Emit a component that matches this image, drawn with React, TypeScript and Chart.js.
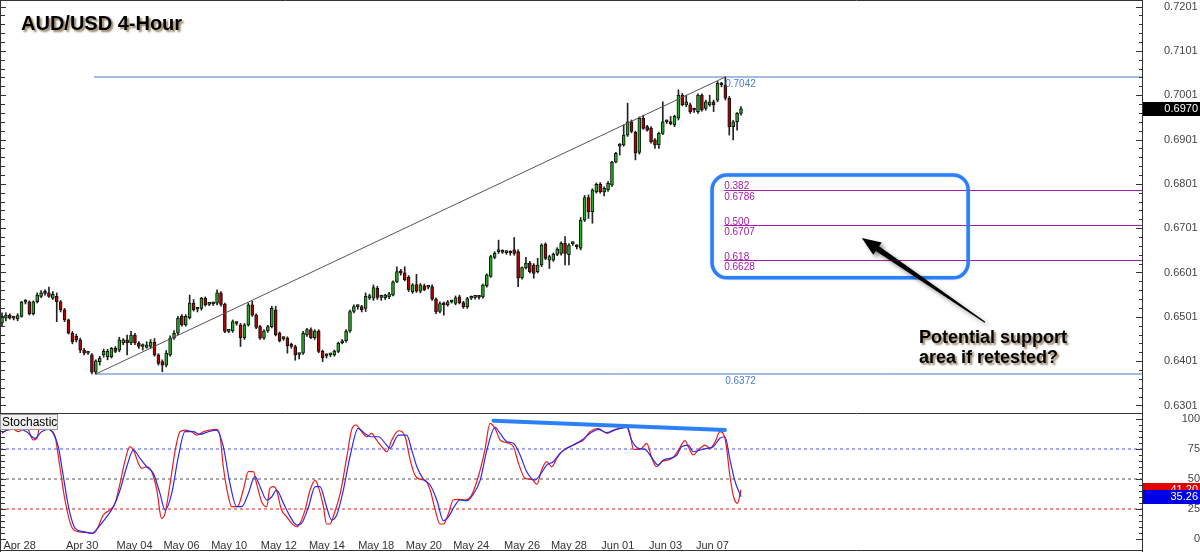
import React, { useEffect, useRef } from 'react';
import { Chart, registerables } from 'chart.js';

Chart.register(...registerables);

// ---------------- DATA ----------------
const candleOpen = [
  0.6487, 0.6498, 0.6505, 0.6498, 0.6496, 0.6502, 0.6534, 0.6535, 0.6508, 0.6535,
  0.6547, 0.6555, 0.6555, 0.6543, 0.6547, 0.6535, 0.6517, 0.6494, 0.6464, 0.6457,
  0.6449, 0.6426, 0.6419, 0.6415, 0.6376, 0.6400, 0.6415, 0.6411, 0.6411, 0.6430,
  0.6426, 0.6442, 0.6449, 0.6442, 0.6460, 0.6442, 0.6434, 0.6432, 0.6434, 0.6444,
  0.6415, 0.6400, 0.6392, 0.6415, 0.6453, 0.6464, 0.6502, 0.6483, 0.6499, 0.6532,
  0.6518, 0.6520, 0.6543, 0.6529, 0.6530, 0.6532, 0.6555, 0.6529, 0.6468, 0.6469,
  0.6487, 0.6483, 0.6454, 0.6483, 0.6528, 0.6505, 0.6479, 0.6453, 0.6469, 0.6479,
  0.6517, 0.6464, 0.6452, 0.6453, 0.6439, 0.6434, 0.6416, 0.6419, 0.6460, 0.6472,
  0.6454, 0.6469, 0.6423, 0.6413, 0.6415, 0.6415, 0.6423, 0.6442, 0.6447, 0.6469,
  0.6513, 0.6524, 0.6524, 0.6520, 0.6543, 0.6543, 0.6565, 0.6545, 0.6544, 0.6546,
  0.6550, 0.6580, 0.6603, 0.6600, 0.6590, 0.6558, 0.6574, 0.6559, 0.6571, 0.6568,
  0.6569, 0.6541, 0.6513, 0.6531, 0.6528, 0.6535, 0.6531, 0.6546, 0.6533, 0.6524,
  0.6543, 0.6545, 0.6546, 0.6546, 0.6571, 0.6592, 0.6635, 0.6648, 0.6648, 0.6646,
  0.6646, 0.6652, 0.6648, 0.6589, 0.6612, 0.6622, 0.6618, 0.6603, 0.6618, 0.6665,
  0.6629, 0.6629, 0.6642, 0.6644, 0.6667, 0.6641, 0.6666, 0.6660, 0.6656, 0.6719,
  0.6770, 0.6738, 0.6783, 0.6800, 0.6783, 0.6787, 0.6798, 0.6850, 0.6886, 0.6889,
  0.6911, 0.6941, 0.6917, 0.6872, 0.6949, 0.6930, 0.6927, 0.6900, 0.6889, 0.6915,
  0.6941, 0.6938, 0.6934, 0.6949, 0.7001, 0.6979, 0.6979, 0.6968, 0.6964, 0.7001,
  0.6971, 0.6979, 0.6986, 0.6990, 0.7026, 0.7024, 0.6994, 0.6930, 0.6941, 0.6960,
];
const candleHigh = [
  0.6510, 0.6510, 0.6508, 0.6502, 0.6508, 0.6536, 0.6540, 0.6537, 0.6537, 0.6555,
  0.6560, 0.6562, 0.6568, 0.6558, 0.6555, 0.6538, 0.6520, 0.6496, 0.6468, 0.6462,
  0.6453, 0.6430, 0.6423, 0.6418, 0.6404, 0.6412, 0.6428, 0.6428, 0.6432, 0.6434,
  0.6455, 0.6452, 0.6460, 0.6468, 0.6464, 0.6445, 0.6440, 0.6445, 0.6450, 0.6452,
  0.6418, 0.6404, 0.6425, 0.6458, 0.6470, 0.6502, 0.6506, 0.6506, 0.6550, 0.6540,
  0.6522, 0.6545, 0.6546, 0.6532, 0.6535, 0.6562, 0.6558, 0.6532, 0.6472, 0.6494,
  0.6490, 0.6486, 0.6486, 0.6532, 0.6536, 0.6508, 0.6482, 0.6472, 0.6482, 0.6525,
  0.6525, 0.6467, 0.6456, 0.6456, 0.6442, 0.6437, 0.6419, 0.6468, 0.6475, 0.6476,
  0.6472, 0.6472, 0.6426, 0.6418, 0.6419, 0.6426, 0.6444, 0.6450, 0.6472, 0.6516,
  0.6528, 0.6528, 0.6527, 0.6555, 0.6552, 0.6573, 0.6570, 0.6550, 0.6552, 0.6556,
  0.6582, 0.6614, 0.6608, 0.6614, 0.6594, 0.6576, 0.6597, 0.6576, 0.6575, 0.6572,
  0.6573, 0.6544, 0.6535, 0.6534, 0.6538, 0.6538, 0.6548, 0.6550, 0.6536, 0.6545,
  0.6548, 0.6548, 0.6549, 0.6575, 0.6598, 0.6640, 0.6648, 0.6674, 0.6652, 0.6650,
  0.6650, 0.6680, 0.6652, 0.6614, 0.6635, 0.6626, 0.6621, 0.6633, 0.6666, 0.6668,
  0.6640, 0.6645, 0.6657, 0.6670, 0.6682, 0.6666, 0.6670, 0.6664, 0.6725, 0.6775,
  0.6776, 0.6790, 0.6803, 0.6804, 0.6794, 0.6806, 0.6852, 0.6872, 0.6892, 0.6934,
  0.6983, 0.6945, 0.6920, 0.6952, 0.6956, 0.6933, 0.6930, 0.6903, 0.6918, 0.6986,
  0.6945, 0.6953, 0.6956, 0.7013, 0.7005, 0.7001, 0.6983, 0.6972, 0.7004, 0.7004,
  0.6990, 0.7001, 0.6990, 0.7032, 0.7030, 0.7042, 0.6998, 0.6944, 0.6962, 0.6975,
];
const candleLow = [
  0.6480, 0.6492, 0.6496, 0.6494, 0.6492, 0.6500, 0.6530, 0.6505, 0.6505, 0.6532,
  0.6544, 0.6550, 0.6545, 0.6540, 0.6490, 0.6512, 0.6490, 0.6462, 0.6440, 0.6444,
  0.6420, 0.6415, 0.6416, 0.6372, 0.6372, 0.6392, 0.6410, 0.6404, 0.6408, 0.6420,
  0.6422, 0.6438, 0.6415, 0.6438, 0.6438, 0.6430, 0.6426, 0.6430, 0.6430, 0.6412,
  0.6392, 0.6377, 0.6388, 0.6412, 0.6450, 0.6460, 0.6480, 0.6480, 0.6496, 0.6514,
  0.6512, 0.6516, 0.6525, 0.6526, 0.6527, 0.6528, 0.6525, 0.6465, 0.6465, 0.6466,
  0.6482, 0.6434, 0.6450, 0.6480, 0.6502, 0.6474, 0.6450, 0.6450, 0.6466, 0.6476,
  0.6458, 0.6444, 0.6448, 0.6419, 0.6430, 0.6403, 0.6406, 0.6416, 0.6457, 0.6452,
  0.6450, 0.6420, 0.6400, 0.6408, 0.6411, 0.6412, 0.6420, 0.6440, 0.6444, 0.6466,
  0.6510, 0.6518, 0.6512, 0.6513, 0.6540, 0.6538, 0.6540, 0.6538, 0.6540, 0.6542,
  0.6548, 0.6578, 0.6595, 0.6582, 0.6558, 0.6554, 0.6556, 0.6555, 0.6560, 0.6564,
  0.6538, 0.6508, 0.6510, 0.6505, 0.6525, 0.6532, 0.6528, 0.6530, 0.6520, 0.6520,
  0.6540, 0.6541, 0.6541, 0.6543, 0.6568, 0.6590, 0.6632, 0.6644, 0.6644, 0.6642,
  0.6640, 0.6640, 0.6569, 0.6586, 0.6609, 0.6600, 0.6588, 0.6600, 0.6614, 0.6630,
  0.6610, 0.6626, 0.6639, 0.6640, 0.6618, 0.6618, 0.6662, 0.6654, 0.6652, 0.6716,
  0.6723, 0.6712, 0.6780, 0.6780, 0.6774, 0.6784, 0.6795, 0.6848, 0.6866, 0.6886,
  0.6908, 0.6916, 0.6855, 0.6868, 0.6924, 0.6920, 0.6893, 0.6881, 0.6881, 0.6912,
  0.6937, 0.6934, 0.6930, 0.6945, 0.6977, 0.6975, 0.6960, 0.6962, 0.6960, 0.6965,
  0.6967, 0.6976, 0.6964, 0.6986, 0.7020, 0.6990, 0.6911, 0.6900, 0.6922, 0.6956,
];
const candleClose = [
  0.6502, 0.6505, 0.6498, 0.6499, 0.6504, 0.6534, 0.6535, 0.6508, 0.6535, 0.6550,
  0.6555, 0.6554, 0.6547, 0.6552, 0.6535, 0.6517, 0.6494, 0.6464, 0.6445, 0.6449,
  0.6426, 0.6419, 0.6419, 0.6376, 0.6402, 0.6408, 0.6423, 0.6423, 0.6430, 0.6423,
  0.6449, 0.6449, 0.6442, 0.6460, 0.6442, 0.6434, 0.6434, 0.6438, 0.6444, 0.6415,
  0.6396, 0.6392, 0.6419, 0.6453, 0.6464, 0.6498, 0.6483, 0.6502, 0.6532, 0.6517,
  0.6520, 0.6543, 0.6528, 0.6530, 0.6532, 0.6555, 0.6529, 0.6468, 0.6469, 0.6490,
  0.6486, 0.6454, 0.6483, 0.6528, 0.6505, 0.6477, 0.6453, 0.6469, 0.6479, 0.6520,
  0.6460, 0.6447, 0.6453, 0.6436, 0.6434, 0.6415, 0.6417, 0.6464, 0.6472, 0.6454,
  0.6469, 0.6423, 0.6409, 0.6415, 0.6417, 0.6424, 0.6442, 0.6447, 0.6469, 0.6513,
  0.6524, 0.6524, 0.6517, 0.6547, 0.6549, 0.6567, 0.6545, 0.6546, 0.6550, 0.6553,
  0.6580, 0.6603, 0.6600, 0.6585, 0.6562, 0.6573, 0.6559, 0.6573, 0.6562, 0.6568,
  0.6541, 0.6512, 0.6531, 0.6528, 0.6535, 0.6536, 0.6544, 0.6533, 0.6524, 0.6542,
  0.6545, 0.6546, 0.6545, 0.6573, 0.6596, 0.6637, 0.6644, 0.6648, 0.6647, 0.6646,
  0.6645, 0.6644, 0.6588, 0.6612, 0.6622, 0.6603, 0.6599, 0.6618, 0.6663, 0.6633,
  0.6637, 0.6642, 0.6654, 0.6667, 0.6644, 0.6663, 0.6667, 0.6659, 0.6719, 0.6770,
  0.6738, 0.6787, 0.6800, 0.6783, 0.6791, 0.6802, 0.6850, 0.6870, 0.6889, 0.6911,
  0.6941, 0.6919, 0.6870, 0.6949, 0.6926, 0.6922, 0.6896, 0.6889, 0.6915, 0.6941,
  0.6942, 0.6937, 0.6953, 0.7001, 0.6979, 0.6986, 0.6964, 0.6967, 0.7001, 0.6968,
  0.6986, 0.6986, 0.6979, 0.7028, 0.7024, 0.6994, 0.6930, 0.6941, 0.6960, 0.6970,
];

const priceTicks = [0.6301, 0.6401, 0.6501, 0.6601, 0.6701, 0.6801, 0.6901, 0.7001, 0.7101, 0.7201];
const stochTicks = [0, 25, 50, 75, 100];
const stochLevels = [75, 50, 25];

const dateLabels = ['Apr 28', 'Apr 30', 'May 04', 'May 06', 'May 10', 'May 12', 'May 14', 'May 18',
  'May 20', 'May 24', 'May 26', 'May 28', 'Jun 01', 'Jun 03', 'Jun 07'];
const dateTickIndex = [4.5, 20.5, 33.9, 45.9, 58.1, 70.8, 83.1, 95.7, 107.9, 120.0, 133.0, 145.0, 157.5, 169.7, 181.7];

// stochastic (%K red, %D blue): [candle index, value]
const stochRed = [
  [0, 88.0], [1.2, 90.8], [2.9, 91.4], [4.2, 89.4], [5.5, 92.2], [6.3, 93.0], [8.0, 82.5], [8.9, 83.9],
  [9.7, 93.6], [11.0, 94.1], [12.3, 90.8], [13.6, 85.2], [14.8, 60.2], [16.1, 32.5], [17.8, 10.2],
  [19.5, 6.1], [21.7, 5.5], [23.4, 4.7], [24.6, 10.2], [25.9, 20.0], [27.6, 24.1], [28.9, 29.7],
  [30.2, 46.4], [31.5, 65.8], [32.7, 76.9], [33.6, 74.1], [34.9, 63.0], [35.7, 58.9], [37.0, 60.2],
  [38.3, 56.1], [39.6, 40.8], [40.8, 17.2], [41.7, 21.4], [43.0, 46.4], [44.3, 74.1], [45.5, 89.4],
  [46.8, 90.8], [48.5, 89.4], [49.8, 86.6], [51.5, 89.4], [53.2, 90.8], [54.9, 91.4], [55.8, 85.2],
  [56.6, 60.2], [57.9, 35.2], [58.7, 26.9], [60.2, 26.9], [61.7, 40.8], [63.0, 56.1], [64.3, 56.1],
  [65.1, 46.4], [66.4, 31.1], [67.7, 26.9], [68.5, 42.2], [69.4, 43.6], [70.2, 40.8], [71.5, 24.1],
  [72.8, 18.6], [74.1, 13.0], [75.4, 10.2], [76.2, 13.0], [77.5, 24.1], [78.8, 40.8], [80.1, 49.1],
  [80.9, 43.6], [82.2, 26.9], [83.0, 12.5], [83.9, 12.5], [84.7, 18.6], [86.5, 38.0], [88.2, 68.6],
  [89.4, 90.8], [90.5, 95.0], [92.0, 89.4], [93.3, 85.2], [94.5, 88.0], [95.8, 82.5], [97.1, 76.9],
  [98.4, 72.7], [99.7, 82.5], [101.4, 90.2], [103.1, 85.2], [104.4, 65.8], [105.6, 53.3], [106.9, 49.7],
  [108.2, 49.1], [109.5, 40.8], [110.8, 24.1], [112.0, 12.5], [112.9, 12.5], [114.2, 21.4], [115.4, 32.5],
  [116.7, 33.0], [118.4, 32.5], [120.1, 36.6], [121.8, 51.9], [123.5, 74.1], [124.8, 96.4], [126.1, 92.2],
  [127.4, 82.5], [129.1, 80.2], [130.8, 76.9], [132.1, 63.0], [133.8, 50.5], [135.5, 49.7], [136.8, 45.5],
  [138.0, 57.5], [139.3, 64.4], [140.6, 60.2], [141.9, 67.2], [143.6, 74.1], [145.3, 76.9], [147.0, 79.7],
  [148.7, 82.5], [150.4, 89.4], [152.5, 92.2], [154.7, 88.0], [156.4, 90.8], [158.1, 92.2], [159.8, 93.6],
  [160.6, 88.0], [161.5, 74.7], [163.2, 74.7], [164.9, 79.7], [166.2, 67.2], [167.4, 60.2], [168.7, 64.4],
  [170.4, 65.8], [171.7, 68.0], [173.0, 74.1], [174.7, 81.9], [175.5, 76.9], [176.8, 70.0], [178.1, 74.1],
  [179.8, 78.3], [181.1, 75.5], [182.4, 81.1], [183.6, 89.4], [185.0, 82.5], [186.2, 51.9], [187.1, 35.2],
  [188.1, 29.7], [189, 41.2],
];
const stochBlue = [
  [0, 88.6], [2.0, 91.4], [4.6, 91.4], [6.3, 89.4], [8.4, 83.9], [10.1, 89.4], [11.9, 91.4], [13.1, 88.0],
  [14.4, 76.9], [15.7, 51.9], [17.0, 26.9], [18.7, 8.9], [20.8, 6.1], [23.0, 4.7], [25.1, 11.6],
  [26.8, 18.6], [28.5, 26.9], [30.2, 40.8], [31.9, 60.2], [33.6, 74.1], [35.3, 67.2], [37.0, 60.2],
  [38.7, 54.7], [40.4, 38.0], [41.7, 24.1], [43.4, 38.0], [45.1, 68.6], [46.8, 89.4], [48.9, 89.4],
  [50.6, 87.2], [52.8, 89.4], [54.9, 90.8], [56.6, 76.9], [58.3, 46.4], [60.0, 26.9], [61.3, 26.9],
  [63.0, 38.0], [64.7, 51.9], [66.0, 43.6], [67.7, 32.5], [69.0, 35.2], [70.2, 40.8], [72.0, 29.7],
  [73.7, 18.6], [75.4, 11.6], [76.6, 13.0], [78.4, 26.9], [80.1, 43.6], [81.3, 43.6], [83.0, 26.9],
  [84.3, 15.8], [85.6, 20.0], [87.3, 40.8], [89.0, 68.6], [91.1, 92.2], [92.8, 88.0], [94.5, 85.2],
  [96.3, 85.2], [98.0, 79.7], [99.2, 75.5], [101.4, 86.6], [103.5, 86.6], [104.8, 74.1], [106.1, 60.2],
  [107.8, 49.7], [109.5, 45.0], [111.2, 32.5], [112.9, 15.2], [114.2, 18.6], [115.9, 28.3], [117.1, 32.5],
  [118.9, 31.9], [120.1, 35.2], [122.3, 49.1], [124.0, 74.1], [126.1, 93.0], [127.4, 88.0], [129.1, 81.1],
  [130.8, 79.7], [132.5, 70.0], [134.2, 56.1], [136.3, 49.1], [137.6, 53.3], [139.3, 61.6], [141.0, 64.4],
  [142.7, 71.4], [144.4, 75.5], [146.1, 78.3], [148.3, 82.5], [150.4, 88.0], [152.5, 91.4], [154.7, 88.6],
  [157.2, 91.4], [159.8, 93.0], [161.0, 82.5], [162.8, 75.5], [164.5, 74.7], [165.7, 70.0], [167.9, 61.6],
  [169.1, 65.8], [170.9, 67.2], [172.6, 70.0], [173.8, 76.9], [175.5, 78.3], [176.8, 72.7], [178.5, 74.1],
  [180.2, 75.5], [181.9, 76.9], [183.6, 83.9], [184.9, 85.2], [186.2, 65.8], [187.5, 47.7], [189, 35.26],
];
const stochDivergence = [[125.7, 98.6], [184.9, 90.8]];

const currentPrice = 0.6970;
const stochRedLast = 41.20;
const stochBlueLast = 35.26;

const resistanceLevel = 0.7042;
const supportLevel = 0.6372;
const trendLowIndex = 24;
const trendHighIndex = 185;
const fibRatios = ['0.382', '0.500', '0.618'];
const fibLevels = [0.6786, 0.6707, 0.6628];
const fibStartIndex = 184.7;

// annotation anchors (data coordinates)
const boxCorners = { x1: 181.6, x2: 247.1, y1: 0.6821, y2: 0.6589 };
const arrowTail = { x: 251.4, y: 0.6489 };
const arrowTip = { x: 219.9, y: 0.6679 };
const noteAnchor = { x: 234.5, y1: 0.6453, y2: 0.6408 };
const noteLines = ['Potential support', 'area if retested?'];
const titleText = 'AUD/USD 4-Hour';

// ---------------- LAYOUT CONSTANTS ----------------
const X_MIN = -0.5115;
const X_MAX = 291.56;
const P_MIN = 0.62863;
const P_MAX = 0.72157;
const S_MIN = 0;
const S_MAX = 105.83;
const AXIS_W = 58;
const FONT = "'Liberation Sans', Arial, sans-serif";

const GREEN = '#1fae1f';
const RED = '#b50000';
const LEVEL_BLUE = '#4a7dc0';
const FIB_PURPLE = '#a21aa8';

function rrect(ctx: CanvasRenderingContext2D, x: number, y: number, w: number, h: number, r: number) {
  ctx.beginPath();
  ctx.moveTo(x + r, y);
  ctx.lineTo(x + w - r, y);
  ctx.arcTo(x + w, y, x + w, y + r, r);
  ctx.lineTo(x + w, y + h - r);
  ctx.arcTo(x + w, y + h, x + w - r, y + h, r);
  ctx.lineTo(x + r, y + h);
  ctx.arcTo(x, y + h, x, y + h - r, r);
  ctx.lineTo(x, y + r);
  ctx.arcTo(x, y, x + r, y, r);
  ctx.closePath();
}

function valueBox(ctx: CanvasRenderingContext2D, yc: number, bg: string, text: string, left: number, width: number) {
  ctx.fillStyle = bg;
  ctx.fillRect(left + 1, Math.round(yc - 7), width - 1, 14);
  ctx.fillStyle = '#fff';
  ctx.font = `11px ${FONT}`;
  ctx.textAlign = 'right';
  ctx.textBaseline = 'middle';
  ctx.fillText(text, 1198, yc + 0.5);
}

const topPlugin = {
  id: 'topDecor',
  afterDraw(chart: any) {
    const { ctx, chartArea: ca } = chart;
    const xs = chart.scales.x;
    const ys = chart.scales.y;
    const px = (v: number) => xs.getPixelForValue(v);
    const py = (v: number) => ys.getPixelForValue(v);
    ctx.save();

    // level labels
    ctx.font = `10px ${FONT}`;
    ctx.textAlign = 'left';
    ctx.fillStyle = LEVEL_BLUE;
    ctx.textBaseline = 'top';
    ctx.fillText(resistanceLevel.toFixed(4), px(fibStartIndex) + 1, py(resistanceLevel) + 2);
    ctx.fillText(supportLevel.toFixed(4), px(fibStartIndex) + 1, py(supportLevel) + 2);

    ctx.fillStyle = FIB_PURPLE;
    fibLevels.forEach((lv, i) => {
      const yy = py(lv);
      ctx.textBaseline = 'alphabetic';
      ctx.fillText(fibRatios[i], px(fibStartIndex), yy - 1);
      ctx.textBaseline = 'top';
      ctx.fillText(lv.toFixed(4), px(fibStartIndex), yy + 2);
    });

    // rounded box
    const bx1 = px(boxCorners.x1), bx2 = px(boxCorners.x2);
    const by1 = py(boxCorners.y1), by2 = py(boxCorners.y2);
    ctx.save();
    ctx.shadowColor = 'rgba(40,110,255,0.35)';
    ctx.shadowBlur = 2;
    ctx.strokeStyle = '#2b80f8';
    ctx.lineWidth = 3.5;
    rrect(ctx, bx1, by1, bx2 - bx1, by2 - by1, 15);
    ctx.stroke();
    ctx.restore();

    // arrow
    const tip = { x: px(arrowTip.x), y: py(arrowTip.y) };
    const tail = { x: px(arrowTail.x), y: py(arrowTail.y) };
    const dx = tip.x - tail.x, dy = tip.y - tail.y;
    const len = Math.hypot(dx, dy);
    const ux = dx / len, uy = dy / len;
    const nx = -uy, ny = ux;
    const headLen = 19, headHalf = 7.5, baseHalf = 2.8, tailHalf = 0.6;
    const hx = tip.x - ux * headLen, hy = tip.y - uy * headLen;
    ctx.save();
    ctx.beginPath();
    ctx.moveTo(tail.x + nx * tailHalf, tail.y + ny * tailHalf);
    ctx.lineTo(hx + nx * baseHalf, hy + ny * baseHalf);
    ctx.lineTo(hx + nx * headHalf, hy + ny * headHalf);
    ctx.lineTo(tip.x, tip.y);
    ctx.lineTo(hx - nx * headHalf, hy - ny * headHalf);
    ctx.lineTo(hx - nx * baseHalf, hy - ny * baseHalf);
    ctx.lineTo(tail.x - nx * tailHalf, tail.y - ny * tailHalf);
    ctx.closePath();
    ctx.shadowColor = 'rgba(0,0,0,0.45)';
    ctx.shadowBlur = 4;
    ctx.shadowOffsetX = 3;
    ctx.shadowOffsetY = 3;
    ctx.fillStyle = '#000';
    ctx.fill();
    ctx.restore();

    // note text
    ctx.save();
    ctx.font = `bold 18px ${FONT}`;
    ctx.fillStyle = '#000';
    ctx.textAlign = 'left';
    ctx.textBaseline = 'middle';
    ctx.shadowColor = 'rgba(90,60,10,0.65)';
    ctx.shadowBlur = 2;
    ctx.shadowOffsetX = 2;
    ctx.shadowOffsetY = 2;
    ctx.fillText(noteLines[0], px(noteAnchor.x), py(noteAnchor.y1));
    ctx.fillText(noteLines[1], px(noteAnchor.x), py(noteAnchor.y2));
    // title
    ctx.font = `bold 20px ${FONT}`;
    ctx.fillText(titleText, 21, 24);
    ctx.restore();

    // frame: top, left, right axis line
    ctx.strokeStyle = '#333';
    ctx.lineWidth = 1;
    ctx.beginPath();
    ctx.moveTo(0, 0.5); ctx.lineTo(ca.right, 0.5);
    ctx.moveTo(0.5, 0); ctx.lineTo(0.5, chart.height);
    ctx.moveTo(ca.right + 0.5, 0); ctx.lineTo(ca.right + 0.5, chart.height);
    ctx.stroke();

    // tick marks (0.002 step, major every 0.01)
    ctx.beginPath();
    for (let k = -5; k <= 50; k++) {
      const v = priceTicks[0] + k * 0.002;
      const yy = Math.round(py(v)) + 0.5;
      if (yy < ca.top || yy > ca.bottom) continue;
      const major = ((k % 5) + 5) % 5 === 0;
      const l = major ? 6 : 3;
      ctx.moveTo(ca.right - l, yy); ctx.lineTo(ca.right, yy);
      ctx.moveTo(0, yy); ctx.lineTo(major ? 6 : 5, yy);
    }
    ctx.stroke();

    // current price box
    valueBox(ctx, py(currentPrice), '#000', currentPrice.toFixed(4), ca.right, chart.width - ca.right);
    ctx.restore();
  },
};

const bottomPlugin = {
  id: 'bottomDecor',
  afterDraw(chart: any) {
    const { ctx, chartArea: ca } = chart;
    const ys = chart.scales.y;
    const py = (v: number) => ys.getPixelForValue(v);
    ctx.save();
    ctx.strokeStyle = '#333';
    ctx.lineWidth = 1;
    ctx.beginPath();
    ctx.moveTo(0, 1.5); ctx.lineTo(ca.right, 1.5);
    ctx.moveTo(0, chart.height - 1.5); ctx.lineTo(ca.right, chart.height - 1.5);
    ctx.moveTo(0.5, 0); ctx.lineTo(0.5, chart.height);
    ctx.moveTo(ca.right + 0.5, 0); ctx.lineTo(ca.right + 0.5, chart.height);
    ctx.stroke();

    ctx.beginPath();
    for (let v = 0; v <= 105; v += 5) {
      const yy = Math.round(py(v)) + 0.5;
      const major = v % 25 === 0;
      const l = major ? 6 : 3;
      ctx.moveTo(ca.right - l, yy); ctx.lineTo(ca.right, yy);
      ctx.moveTo(0, yy); ctx.lineTo(major ? 6 : 5, yy);
    }
    ctx.stroke();

    // indicator name box
    ctx.fillStyle = '#f0f0f0';
    ctx.fillRect(0.5, 2.5, 57, 15);
    ctx.strokeStyle = '#9a9a9a';
    ctx.strokeRect(0.5, 2.5, 57, 15);
    ctx.fillStyle = '#000';
    ctx.font = `12px ${FONT}`;
    ctx.textAlign = 'left';
    ctx.textBaseline = 'middle';
    ctx.fillText('Stochastic', 2, 10.5);

    valueBox(ctx, py(stochRedLast), '#e00000', stochRedLast.toFixed(2), ca.right, chart.width - ca.right);
    valueBox(ctx, py(stochBlueLast), '#0000e6', stochBlueLast.toFixed(2), ca.right, chart.width - ca.right);
    ctx.restore();
  },
};

function hLine(y: number, fromX: number, color: string, width = 1, dash: number[] = []) {
  return {
    type: 'line',
    data: [{ x: fromX, y }, { x: X_MAX, y }],
    borderColor: color,
    borderWidth: width,
    borderDash: dash,
    pointRadius: 0,
    fill: false,
  };
}

function buildTopConfig(): any {
  const idx = candleOpen.map((_, i) => i);
  const bodies = idx.map((i) => ({ x: i, y: [candleOpen[i], candleClose[i]] }));
  const wicks = idx.map((i) => ({ x: i, y: [candleLow[i], candleHigh[i]] }));
  const bodyColors = idx.map((i) => (candleClose[i] >= candleOpen[i] ? GREEN : RED));
  return {
    type: 'bar',
    data: {
      datasets: [
        {
          type: 'line',
          data: [
            { x: trendLowIndex, y: candleLow[trendLowIndex] },
            { x: trendHighIndex, y: candleHigh[trendHighIndex] },
          ],
          borderColor: '#555',
          borderWidth: 1,
          pointRadius: 0,
        },
        {
          type: 'bar',
          data: bodies,
          backgroundColor: bodyColors,
          borderColor: '#111',
          borderWidth: 1,
          borderSkipped: false,
          barThickness: 3,
          minBarLength: 2,
          grouped: false,
        },
        {
          type: 'bar',
          data: wicks,
          backgroundColor: '#222',
          borderWidth: 0,
          barThickness: 1,
          grouped: false,
        },
        hLine(resistanceLevel, trendLowIndex - 0.5, LEVEL_BLUE),
        hLine(supportLevel, trendLowIndex - 0.3, LEVEL_BLUE),
        ...fibLevels.map((lv) => hLine(lv, fibStartIndex, FIB_PURPLE)),
      ],
    },
    options: {
      responsive: false,
      maintainAspectRatio: false,
      animation: false,
      devicePixelRatio: 1,
      events: [],
      layout: { padding: 0 },
      plugins: { legend: { display: false }, tooltip: { enabled: false } },
      scales: {
        x: { type: 'linear', min: X_MIN, max: X_MAX, display: false, offset: false },
        y: {
          type: 'linear',
          position: 'right',
          min: P_MIN,
          max: P_MAX,
          beginAtZero: false,
          grid: { display: false, drawTicks: false },
          border: { display: false },
          afterBuildTicks: (s: any) => { s.ticks = priceTicks.map((v) => ({ value: v })); },
          afterFit: (s: any) => { s.width = AXIS_W; s.paddingTop = 0; s.paddingBottom = 0; },
          ticks: {
            autoSkip: false,
            padding: 22,
            crossAlign: 'near',
            color: '#444',
            font: { family: FONT, size: 11 },
            callback: (v: any) => Number(v).toFixed(4),
          },
        },
      },
    },
    plugins: [topPlugin],
  };
}

function buildBottomConfig(): any {
  const toPts = (arr: number[][]) => arr.map(([x, y]) => ({ x, y }));
  return {
    type: 'line',
    data: {
      datasets: [
        {
          data: toPts(stochDivergence),
          borderColor: '#2b80f8',
          borderWidth: 4,
          borderCapStyle: 'round',
          pointRadius: 0,
        },
        {
          data: toPts(stochBlue),
          borderColor: '#2b2bf0',
          borderWidth: 1.2,
          pointRadius: 0,
          cubicInterpolationMode: 'monotone',
        },
        {
          data: toPts(stochRed),
          borderColor: '#ee1a1a',
          borderWidth: 1.2,
          pointRadius: 0,
          cubicInterpolationMode: 'monotone',
        },
        hLine(stochLevels[0], X_MIN, '#4f4ff5', 1, [3, 3]),
        hLine(stochLevels[1], X_MIN, '#555555', 1, [3, 3]),
        hLine(stochLevels[2], X_MIN, '#d42020', 1, [3, 3]),
      ],
    },
    options: {
      responsive: false,
      maintainAspectRatio: false,
      animation: false,
      devicePixelRatio: 1,
      events: [],
      layout: { padding: 0 },
      plugins: { legend: { display: false }, tooltip: { enabled: false } },
      scales: {
        x: {
          type: 'linear',
          min: X_MIN,
          max: X_MAX,
          position: 'bottom',
          offset: false,
          grid: { display: false, drawTicks: false },
          border: { display: false },
          afterBuildTicks: (s: any) => { s.ticks = dateTickIndex.map((v) => ({ value: v })); },
          afterFit: (s: any) => { s.height = 13; s.paddingLeft = 0; s.paddingRight = 0; },
          ticks: {
            autoSkip: false,
            maxRotation: 0,
            minRotation: 0,
            padding: 0,
            color: '#333',
            font: { family: FONT, size: 11 },
            callback: (_v: any, i: number) => dateLabels[i],
          },
        },
        y: {
          type: 'linear',
          position: 'right',
          min: S_MIN,
          max: S_MAX,
          grid: { display: false, drawTicks: false },
          border: { display: false },
          afterBuildTicks: (s: any) => { s.ticks = stochTicks.map((v) => ({ value: v })); },
          afterFit: (s: any) => { s.width = AXIS_W; s.paddingTop = 0; s.paddingBottom = 0; },
          ticks: {
            autoSkip: false,
            padding: 25,
            crossAlign: 'far',
            color: '#444',
            font: { family: FONT, size: 11 },
            callback: (v: any) => String(v),
          },
        },
      },
    },
    plugins: [bottomPlugin],
  };
}

export default function App() {
  const topRef = useRef<HTMLCanvasElement>(null);
  const botRef = useRef<HTMLCanvasElement>(null);

  useEffect(() => {
    const top = new Chart(topRef.current as HTMLCanvasElement, buildTopConfig());
    const bot = new Chart(botRef.current as HTMLCanvasElement, buildBottomConfig());
    return () => {
      top.destroy();
      bot.destroy();
    };
  }, []);

  return (
    <div style={{ position: 'absolute', left: 0, top: 0, width: 1200, height: 552, background: '#fff', overflow: 'hidden' }}>
      <canvas ref={topRef} width={1200} height={412} style={{ position: 'absolute', left: 0, top: 0, width: 1200, height: 412 }} />
      <canvas ref={botRef} width={1200} height={140} style={{ position: 'absolute', left: 0, top: 412, width: 1200, height: 140 }} />
    </div>
  );
}
